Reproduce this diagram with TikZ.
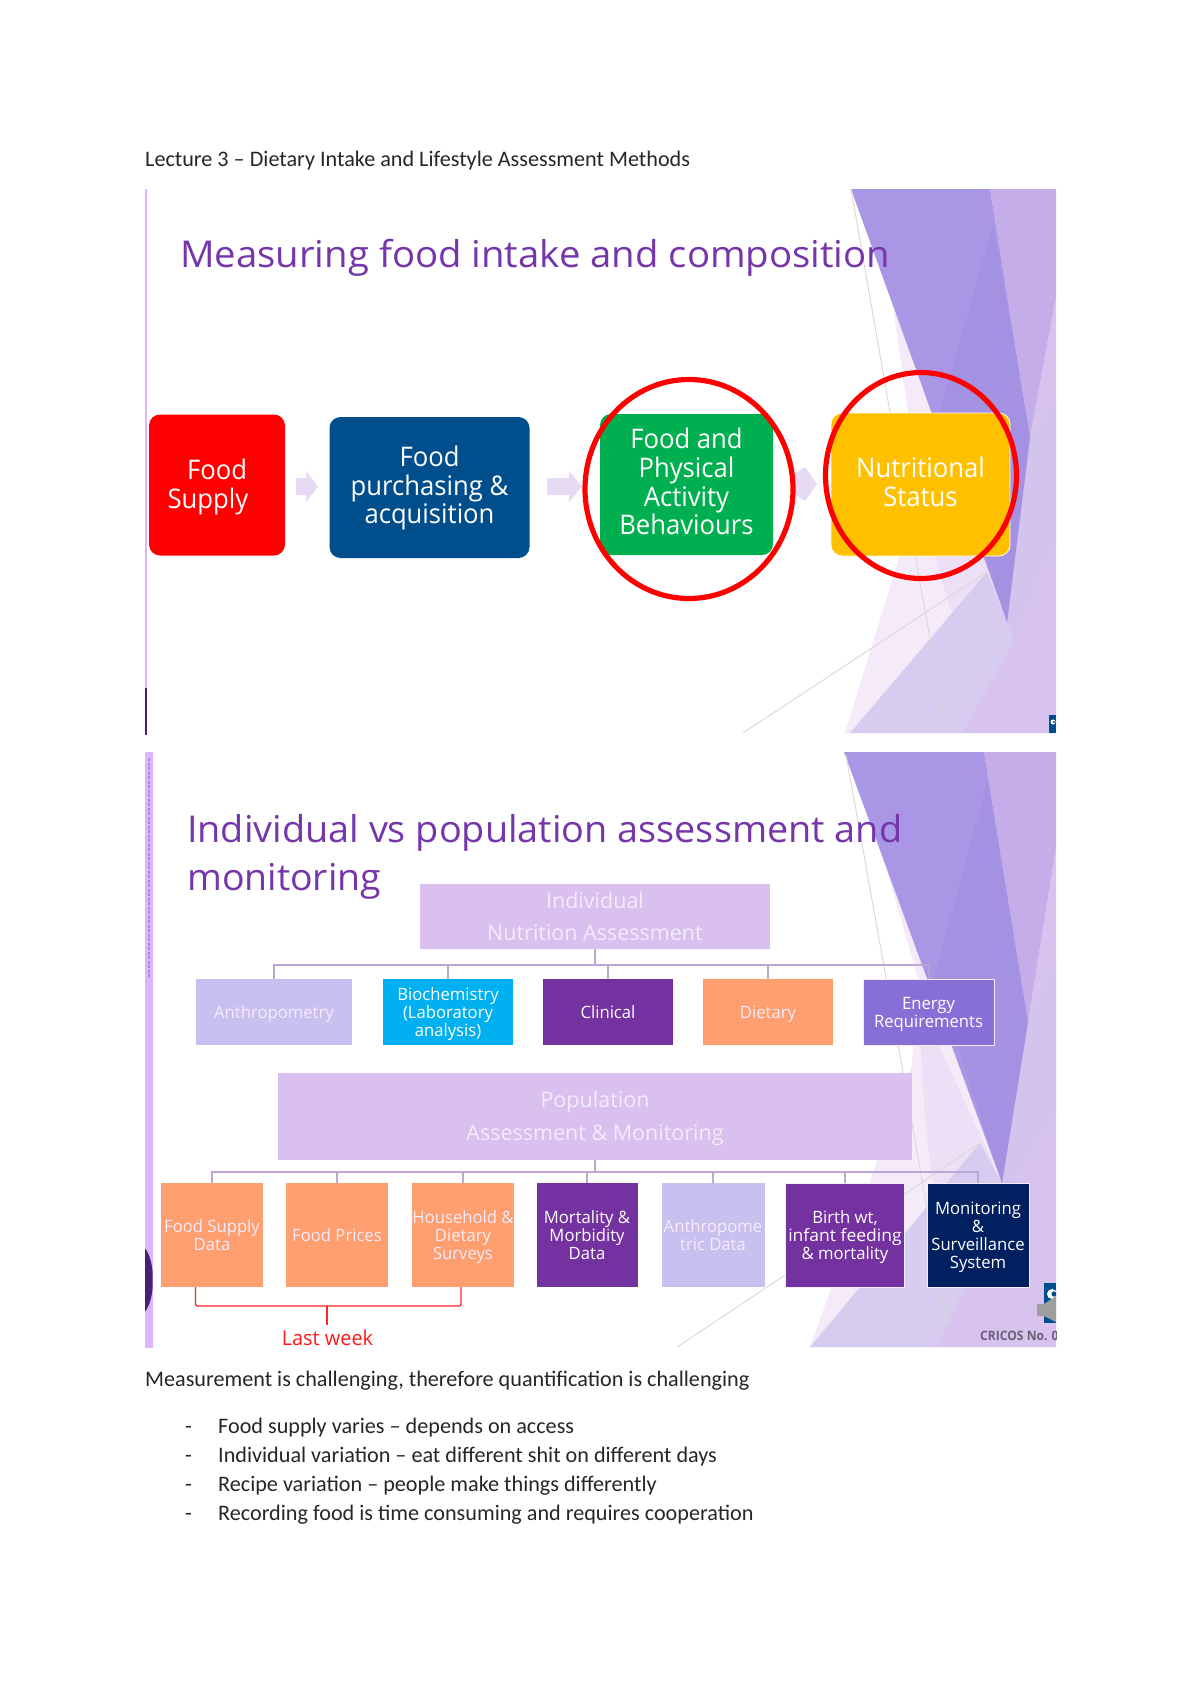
\documentclass[tikz,border=0pt]{standalone}
\usepackage{fontspec}
\usepackage{graphicx}
\setmainfont{Carlito}
\newfontfamily\slidefont{Open Sans}
\newcommand{\fitw}[2]{\resizebox{#1pt}{\height}{#2}}
\newcommand{\sq}[1]{\scalebox{0.98}[1]{#1}}
\newcommand{\fq}[1]{\scalebox{0.95}[1]{#1}}
\newcommand{\dn}{\rule{0pt}{17pt}}
\definecolor{dkv}{HTML}{A997E6}
\definecolor{dkvb}{HTML}{A392E2}
\definecolor{ltv}{HTML}{C4ADE8}
\definecolor{rband}{HTML}{D8C2EE}
\definecolor{rbandb}{HTML}{D3C4EE}
\definecolor{lil}{HTML}{D6CCF0}
\definecolor{pale}{HTML}{F4EAF8}
\definecolor{paleb}{HTML}{EDE0F6}
\definecolor{gline}{HTML}{D8D8D8}
\definecolor{arrowc}{HTML}{E6DAF5}
\definecolor{sideb}{HTML}{DDB5FF}
\definecolor{sidet}{HTML}{B58AD8}
\definecolor{titlec}{HTML}{7536AC}
\definecolor{boxlil}{HTML}{D9C0EE}
\definecolor{boxpale}{HTML}{C9C0F0}
\definecolor{boxsky}{HTML}{00B0F0}
\definecolor{boxpur}{HTML}{7431A0}
\definecolor{boxor}{HTML}{FF9E6E}
\definecolor{boxen}{HTML}{8570D8}
\definecolor{boxnavy}{HTML}{002060}
\definecolor{boxblue}{HTML}{004E8C}
\definecolor{boxgreen}{HTML}{00B050}
\definecolor{boxyel}{HTML}{FFC000}
\definecolor{conn}{HTML}{BCA6D6}
\definecolor{txtlil}{HTML}{F3ECFA}
\definecolor{darkside}{HTML}{4B1F78}
\definecolor{cric}{HTML}{6A6078}
\tikzset{
  body/.style={anchor=base west,inner sep=0pt,font=\fontsize{22.17}{26}\selectfont,text=black!85},
  ttl/.style={anchor=base west,inner sep=0pt,text=titlec,font=\slidefont\fontsize{37}{40}\selectfont},
  flow/.style={rounded corners=11pt,minimum height=141pt,inner sep=0pt,align=center,text=white,font=\slidefont\fontsize{27}{28.8}\selectfont},
  rowbox/.style={draw=none,inner sep=0pt,align=center,text=white,font=\slidefont\fontsize{17}{18.2}\selectfont},
  headbox/.style={inner sep=0pt,align=center,fill=boxlil,text=txtlil,font=\slidefont\fontsize{21.5}{32.5}\selectfont},
  fa/.style={fill=arrowc,draw=none},
  ring/.style={draw=red,line width=5.2pt},
  link/.style={draw=conn,line width=1.8pt},
  redl/.style={draw=red!85!white,line width=1.4pt,rounded corners=2pt},
  gl/.style={draw=gline,line width=0.9pt}
}
\begin{document}
\begin{tikzpicture}[x=1pt,y=-1pt]
\useasboundingbox (0,0) rectangle (1200,1698);
\fill[white] (0,0) rectangle (1200,1698);

\node[body] (h1) at (145,166) {Lecture 3 – Dietary Intake and Lifestyle Assessment Methods};

% ---------- slide 1 background
\fill[sideb] (145,189) rectangle (147,735);
\fill[darkside] (145,688) rectangle (147,735);
\fill[pale] (893,307) -- (908,412) -- (900,555) -- (845,733) -- (963,733) -- (1007,622) -- (950,450) -- cycle;
\fill[paleb] (930,412) -- (1007,622) -- (950,610) -- (935,555) -- cycle;
\fill[rband] (1056,297) -- (1030,437) -- (1007,622) -- (963,733) -- (1056,733) -- cycle;
\fill[rbandb] (1056,400) -- (1030,437) -- (1007,622) -- (1013,642) -- (1056,540) -- cycle;
\fill[lil] (850,733) -- (987,572) -- (1007,622) -- (1013,642) -- (963,733) -- cycle;
\fill[ltv] (990,189) -- (1056,189) -- (1056,297) -- (1030,437) -- cycle;
\fill[dkv] (851,189) -- (990,189) -- (1030,437) -- (1007,622) -- cycle;
\fill[dkvb] (993,225) -- (1030,437) -- (1007,622) -- (940,412) -- cycle;
\draw[gl] (851,189) -- (890,412) -- (915,555) -- (947,733);
\draw[gl] (743,733) -- (987,572);
\fill[boxblue] (1049,715) rectangle (1056,733);
\fill[white] (1053,722) circle (2.5pt);
\fill[boxblue] (1054,722) circle (1.2pt);

\node[ttl] (t1) at (180,267) {\fitw{710}{Measuring food intake and composition}};

\node[flow,fill=red,minimum width=136pt] (fs) at (217,485) {\rule{0pt}{24pt}\fq{Food}\\\fq{Supply}\hspace*{18pt}};
\node[flow,fill=boxblue,minimum width=200pt] (fp) at (429.5,487.5) {\rule{0pt}{22pt}\fq{Food}\\\fq{purchasing \&}\\\fq{acquisition}\rule[-7pt]{0pt}{7pt}};
\node[flow,fill=boxgreen,minimum width=173pt] (fb) at (686.5,484.5) {\fq{Food and}\\\fq{Physical}\\\fq{Activity}\\\fq{Behaviours}\rule[-6pt]{0pt}{6pt}};
\node[flow,fill=boxyel,draw=white,line width=0.8pt,minimum width=179pt,minimum height=143pt] (ns) at (920.5,484.5) {\fq{Nutritional}\\\fq{Status}\rule[-6pt]{0pt}{6pt}};

\fill[fa] (296,478) -- (306,478) -- (306,471) -- (318,486.5) -- (306,502) -- (306,495) -- (296,495) -- cycle;
\fill[fa] (547,478) -- (569,478) -- (569,471) -- (582,486.5) -- (569,502) -- (569,495) -- (547,495) -- cycle;
\fill[fa] (794,474) -- (805,467) -- (817,484) -- (805,501) -- (794,494) -- cycle;

\draw[ring] (689,489) ellipse [x radius=104,y radius=109.5];
\draw[ring] (921,475.5) ellipse [x radius=95.5,y radius=103];

% ---------- slide 2 background
\fill[sideb] (145,752) rectangle (152.6,1348);
\draw[draw=sidet,line width=1.6pt,dash pattern=on 3pt off 1.5pt] (149,758) -- (149,977);
\begin{scope}
\clip (145,1240) rectangle (152.6,1320);
\fill[darkside] (138,1280) ellipse [x radius=15,y radius=36];
\end{scope}
\fill[pale] (885,864) -- (918,978) -- (912,1065) -- (810,1347) -- (937,1347) -- (1002,1183) -- (950,1000) -- cycle;
\fill[paleb] (918,1000) -- (1002,1183) -- (935,1200) -- (925,1120) -- cycle;
\fill[rband] (1056,848) -- (1028,1022) -- (1002,1183) -- (937,1347) -- (1056,1347) -- cycle;
\fill[rbandb] (1056,960) -- (1028,1022) -- (1002,1183) -- (1006,1200) -- (1056,1110) -- cycle;
\fill[lil] (810,1347) -- (980,1143) -- (1002,1183) -- (1006,1200) -- (937,1347) -- cycle;
\fill[ltv] (984,752) -- (1056,752) -- (1056,848) -- (1028,1022) -- cycle;
\fill[dkv] (844,752) -- (984,752) -- (1028,1022) -- (1002,1183) -- cycle;
\fill[dkvb] (988,780) -- (1028,1022) -- (1002,1183) -- (935,975) -- cycle;
\draw[gl] (846,755) -- (903,1072) -- (947,1323);
\draw[gl] (677,1347) -- (785,1275) -- (980,1143);

\node[ttl] (t2a) at (187,842) {\fitw{715}{Individual vs population assessment and}};
\node[ttl] (t2b) at (187,890) {\fitw{194}{monitoring}};

\node[headbox,minimum width=350pt,minimum height=65pt] (ind) at (595,916.5) {Individual\\Nutrition Assessment};
\node[headbox,minimum width=634pt,minimum height=87pt,font=\slidefont\fontsize{21.5}{33.5}\selectfont] (pop) at (595,1116.5) {\rule{0pt}{20pt}Population\\Assessment \& Monitoring};

\node[rowbox,fill=boxpale,text=txtlil,minimum width=156pt,minimum height=66pt] (r1a) at (274,1012) {\dn\sq{Anthropometry}};
\node[rowbox,fill=boxsky,minimum width=130pt,minimum height=66pt] (r1b) at (448,1012) {\dn\sq{Biochemistry}\\\sq{(Laboratory}\\\sq{analysis)}};
\node[rowbox,fill=boxpur,minimum width=130pt,minimum height=66pt] (r1c) at (608,1012) {\sq{Clinical}};
\node[rowbox,fill=boxor,text=txtlil,minimum width=130pt,minimum height=66pt] (r1d) at (768,1012) {\dn\sq{Dietary}};
\node[rowbox,fill=boxen,draw=txtlil,line width=1pt,minimum width=131pt,minimum height=66pt] (r1e) at (928.5,1012) {\dn\sq{Energy}\\\sq{Requirements}};

\node[rowbox,fill=boxor,text=txtlil,minimum width=102pt,minimum height=104pt] (r2a) at (212,1235) {\sq{Food Supply}\\\sq{Data}};
\node[rowbox,fill=boxor,text=txtlil,minimum width=102pt,minimum height=104pt] (r2b) at (337,1235) {\sq{Food Prices}};
\node[rowbox,fill=boxor,text=txtlil,minimum width=102pt,minimum height=104pt] (r2c) at (463,1235) {\dn\sq{Household \&}\\\sq{Dietary}\\\sq{Surveys}};
\node[rowbox,fill=boxpur,minimum width=101pt,minimum height=104pt] (r2d) at (587,1235) {\sq{Mortality \&}\\\sq{Morbidity}\\\sq{Data}};
\node[rowbox,fill=boxpale,text=txtlil,minimum width=103pt,minimum height=104pt] (r2e) at (713,1235) {\sq{Anthropome}\\\sq{tric Data}};
\node[rowbox,fill=boxpur,draw=txtlil,line width=0.8pt,minimum width=119pt,minimum height=104pt] (r2f) at (845,1235) {\dn\sq{Birth wt,}\\\scalebox{1.03}[1]{infant feeding}\\\sq{\& mortality}};
\node[rowbox,fill=boxnavy,draw=txtlil,line width=1pt,minimum width=102pt,minimum height=104pt] (r2g) at (978,1235) {\dn\sq{Monitoring}\\\sq{\&}\\\sq{Surveillance}\\\sq{System}};

\coordinate (b1) at (595,965);
\coordinate (b2) at (595,1172);
\draw[link] (ind.south) -- (b1);
\foreach \n in {r1a,r1b,r1c,r1d,r1e} \draw[link] (b1) -| (\n.north);
\draw[link] (pop.south) -- (b2);
\foreach \n in {r2a,r2b,r2c,r2d,r2e,r2f,r2g} \draw[link] (b2) -| (\n.north);

\coordinate (bl) at (195.5,1287);
\coordinate (br) at (461,1287);
\coordinate (bt) at (327,1306);
\coordinate (bm) at (327,1325);
\draw[redl] (bl) |- (bt) -| (br);
\draw[redl] (bt) -- (bm);
\node[inner sep=0pt,text=red!90!white,font=\slidefont\fontsize{20.5}{22}\selectfont] (lw) at (327.5,1338) {\scalebox{0.97}[1]{Last week}};

% logo + speaker + CRICOS
\begin{scope}
\clip (145,752) rectangle (1056,1347);
\fill[boxblue] (1044,1283) rectangle (1056,1323);
\fill[white] (1052,1294) circle (5pt);
\fill[boxblue] (1054,1294) circle (2.6pt);
\fill[black!38] (1037,1304) -- (1044,1304) -- (1056,1296) -- (1056,1322) -- (1044,1316) -- (1037,1316) -- cycle;
\node[anchor=base west,inner sep=0pt,text=cric,font=\slidefont\bfseries\fontsize{13}{14}\selectfont] (cr) at (980,1340) {\scalebox{0.93}[1]{CRICOS No. 00}};
\end{scope}

% ---------- lower text
\node[body] (m0) at (145,1386) {Measurement is challenging, therefore quantification is challenging};
\node[body] (d1) at (185,1433) {-};
\node[body] (l1) at (218,1433) {Food supply varies – depends on access};
\node[body] (d2) at (185,1462) {-};
\node[body] (l2) at (218,1462) {Individual variation – eat different shit on different days};
\node[body] (d3) at (185,1491) {-};
\node[body] (l3) at (218,1491) {Recipe variation – people make things differently};
\node[body] (d4) at (185,1520) {-};
\node[body] (l4) at (218,1520) {Recording food is time consuming and requires cooperation};
\end{tikzpicture}
\end{document}
